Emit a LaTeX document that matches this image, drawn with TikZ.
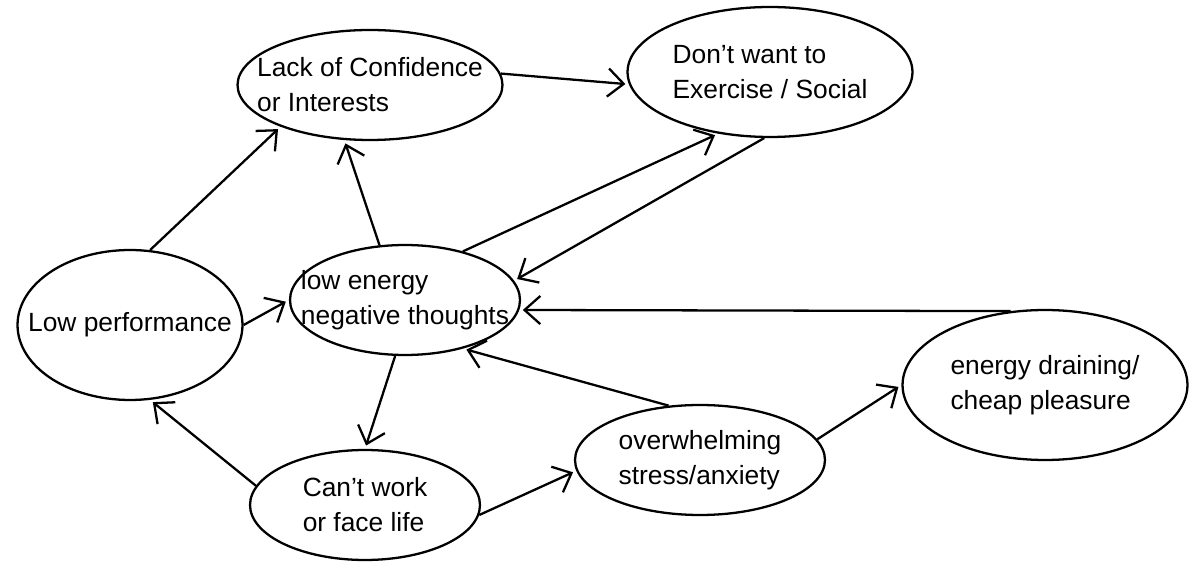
\documentclass[tikz,border=0pt]{standalone}
\usepackage{fontspec}
\setmainfont{Liberation Sans}
\usetikzlibrary{shapes.geometric,arrows.meta}

\tikzset{
	blob/.style={draw, ellipse, line width=1.3pt, inner sep=0pt},
	txt/.style={label={[align=left, font=\fontsize{15}{20}\selectfont]center:#1}},
	arr/.style={line width=1.3pt, -{Straight Barb[length=9pt,width=16pt]}, shorten >=2pt}
}

\begin{document}
\begin{tikzpicture}[x=0.02cm, y=-0.02cm]
	\useasboundingbox (0, 0) rectangle (1200, 570);

	\node[blob, minimum width=5.3cm, minimum height=2.2cm, txt={Lack of Confidence\\or Interests}] (lack) at (370, 85) {};
	\node[blob, minimum width=5.7cm, minimum height=2.6cm, txt={Don't want to\\Exercise / Social}] (exer) at (770, 72) {};
	\node[blob, minimum width=4.5cm, minimum height=3cm, txt={Low performance}] (perf) at (130, 325) {};
	\node[blob, minimum width=4.6cm, minimum height=2.2cm, txt={low energy\\negative thoughts}] (low) at (405, 300) {};
	\node[blob, minimum width=5.7cm, minimum height=3cm, txt={energy draining/\\cheap pleasure}] (drain) at (1045, 385) {};
	\node[blob, minimum width=5cm, minimum height=2.2cm, txt={overwhelming\\stress/anxiety}] (stress) at (700, 460) {};
	\node[blob, minimum width=4.6cm, minimum height=2.2cm, txt={Can't work\\or face life}] (work) at (365, 505) {};

	\draw[arr] (perf.75) -- (lack.205);
	\draw[arr] (perf.east) -- (low.west);
	\draw[arr] (work.170) -- (perf.-75);
	\draw[arr] (low.115) -- (lack.-115);
	\draw[arr] (lack.5) -- (exer.185);
	\draw[arr] (low.40) -- (exer.230);
	\draw[arr] (exer.-95) -- (low.10);
	\draw[arr] (drain.115) -- (low.-5);
	\draw[arr] (stress.120) -- (low.-40);
	\draw[arr] (low.-100) -- (work.90);
	\draw[arr] (work.-5) -- (stress.185);
	\draw[arr] (stress.10) -- (drain.180);
\end{tikzpicture}
\end{document}
